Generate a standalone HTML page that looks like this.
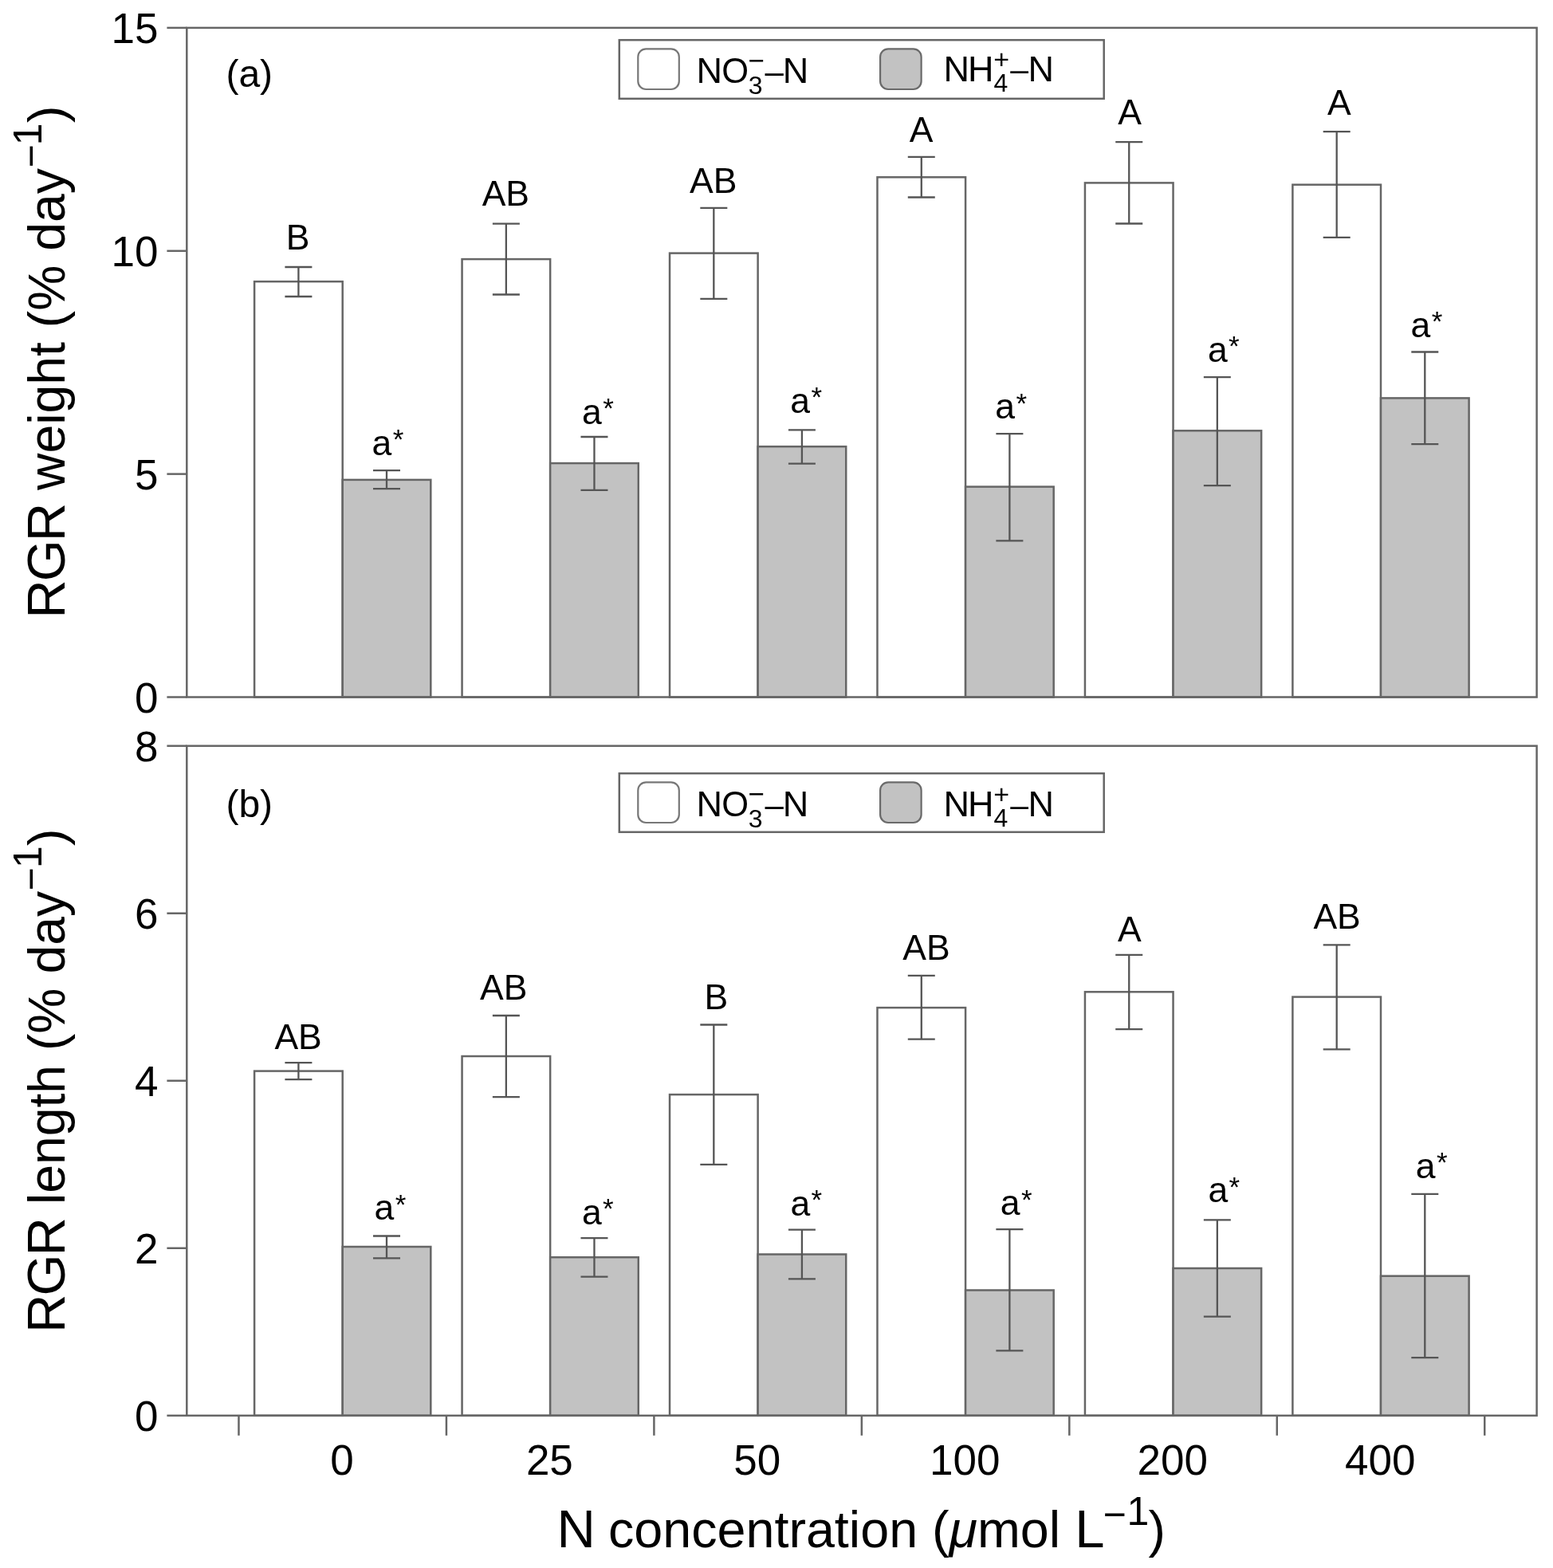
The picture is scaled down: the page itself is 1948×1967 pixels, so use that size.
<!DOCTYPE html>
<html lang="en">
<head>
<meta charset="utf-8">
<title>RGR weight and RGR length vs N concentration</title>
<style>
html,body{margin:0;padding:0;background:#fff}
body{width:1948px;height:1967px;overflow:hidden}
svg{display:block}
text{font-family:"Liberation Sans", Arial, Helvetica, sans-serif}
</style>
</head>
<body>
<svg width="1948" height="1967" viewBox="0 0 1948 1967" font-family='"Liberation Sans", Arial, Helvetica, sans-serif' fill="#000" stroke="none">
<defs><filter id="soft" x="0" y="0" width="1948" height="1967" filterUnits="userSpaceOnUse"><feGaussianBlur stdDeviation="0.6"/></filter></defs>
<rect width="1948" height="1967" fill="#fff"/>
<g filter="url(#soft)">
<rect x="-10" y="-10" width="1968" height="1987" fill="#fff"/>
<g class="panel">
<g class="bars" stroke="#666666" stroke-width="2.5">
<rect x="319.1" y="353.2" width="110.6" height="521.3" fill="#fff"/>
<rect x="429.7" y="601.9" width="110.6" height="272.6" fill="#c2c2c2"/>
<rect x="579.56" y="325.1" width="110.6" height="549.4" fill="#fff"/>
<rect x="690.16" y="581.1" width="110.6" height="293.4" fill="#c2c2c2"/>
<rect x="840.02" y="317.6" width="110.6" height="556.9" fill="#fff"/>
<rect x="950.62" y="560.2" width="110.6" height="314.3" fill="#c2c2c2"/>
<rect x="1100.48" y="222.3" width="110.6" height="652.2" fill="#fff"/>
<rect x="1211.08" y="610.6" width="110.6" height="263.9" fill="#c2c2c2"/>
<rect x="1360.94" y="229.4" width="110.6" height="645.1" fill="#fff"/>
<rect x="1471.54" y="540.3" width="110.6" height="334.2" fill="#c2c2c2"/>
<rect x="1621.4" y="231.7" width="110.6" height="642.8" fill="#fff"/>
<rect x="1732" y="499.4" width="110.6" height="375.1" fill="#c2c2c2"/>
</g>
<g class="errorbars" fill="none" stroke="#555555" stroke-width="2.3">
<path d="M357.4 335H391.4M357.4 372H391.4M374.4 335V372"/>
<path d="M468 590.2H502M468 613.2H502M485 590.2V613.2"/>
<path d="M617.86 280.6H651.86M617.86 369.5H651.86M634.86 280.6V369.5"/>
<path d="M728.46 548H762.46M728.46 614.8H762.46M745.46 548V614.8"/>
<path d="M878.32 260.9H912.32M878.32 374.8H912.32M895.32 260.9V374.8"/>
<path d="M988.92 539.4H1022.92M988.92 581.7H1022.92M1005.92 539.4V581.7"/>
<path d="M1138.78 196.8H1172.78M1138.78 247.5H1172.78M1155.78 196.8V247.5"/>
<path d="M1249.38 544.2H1283.38M1249.38 678.4H1283.38M1266.38 544.2V678.4"/>
<path d="M1399.24 178.1H1433.24M1399.24 280.5H1433.24M1416.24 178.1V280.5"/>
<path d="M1509.84 473.2H1543.84M1509.84 609.2H1543.84M1526.84 473.2V609.2"/>
<path d="M1659.7 165.1H1693.7M1659.7 297.8H1693.7M1676.7 165.1V297.8"/>
<path d="M1770.3 441.5H1804.3M1770.3 557.2H1804.3M1787.3 441.5V557.2"/>
</g>
<g class="sig-labels" font-size="44.5">
<text x="373.7" y="313.2" text-anchor="middle">B</text>
<text x="466.6" y="570.7">a<tspan font-size="35" dx="1.45" dy="-7.8">*</tspan></text>
<text x="634.35" y="257.7" text-anchor="middle">AB</text>
<text x="730" y="532">a<tspan font-size="35" dx="1.45" dy="-7.8">*</tspan></text>
<text x="894.7" y="242.4" text-anchor="middle">AB</text>
<text x="991.2" y="518.2">a<tspan font-size="35" dx="1.45" dy="-7.8">*</tspan></text>
<text x="1155.65" y="177.8" text-anchor="middle">A</text>
<text x="1248.2" y="525.4">a<tspan font-size="35" dx="1.45" dy="-7.8">*</tspan></text>
<text x="1417" y="156.1" text-anchor="middle">A</text>
<text x="1514.9" y="453.8">a<tspan font-size="35" dx="1.45" dy="-7.8">*</tspan></text>
<text x="1679.95" y="143.8" text-anchor="middle">A</text>
<text x="1769.5" y="423.1">a<tspan font-size="35" dx="1.45" dy="-7.8">*</tspan></text>
</g>
<rect class="frame" x="234.3" y="34.9" width="1693.3" height="839.6" fill="none" stroke="#666666" stroke-width="2.5"/>
<g class="yaxis" font-size="53" text-anchor="end">
<line x1="209.4" x2="234.3" y1="874.5" y2="874.5" stroke="#666666" stroke-width="2.5"/>
<text x="198.5" y="894">0</text>
<line x1="209.4" x2="234.3" y1="594.63" y2="594.63" stroke="#666666" stroke-width="2.5"/>
<text x="198.5" y="614.13">5</text>
<line x1="209.4" x2="234.3" y1="314.77" y2="314.77" stroke="#666666" stroke-width="2.5"/>
<text x="198.5" y="334.27">10</text>
<line x1="209.4" x2="234.3" y1="34.9" y2="34.9" stroke="#666666" stroke-width="2.5"/>
<text x="198.5" y="54.4">15</text>
</g>
<text class="tag" x="283.4" y="108.6" font-size="48">(a)</text>
<g class="legend">
<rect x="776.8" y="50.2" width="607.9" height="73.6" fill="#fff" stroke="#666666" stroke-width="2.5"/>
<rect x="800.3" y="61.4" width="51.5" height="50.6" rx="10" fill="#fff" stroke="#777" stroke-width="2.2"/>
<rect x="1104.1" y="61.4" width="51.5" height="50.6" rx="10" fill="#c2c2c2" stroke="#6a6a6a" stroke-width="2.2"/>
<text font-size="45"><tspan x="873.5" y="104.4">N</tspan><tspan x="905.2" y="104.4" font-size="43.5">O</tspan><tspan x="938.8" y="118" font-size="32">3</tspan><tspan x="938.3" y="88.1" font-size="35">−</tspan><tspan x="959.4" y="104.1" font-size="42">–</tspan><tspan x="981.7" y="104.4">N</tspan></text>
<text font-size="45"><tspan x="1183.5" y="101.9">N</tspan><tspan x="1214.1" y="101.9">H</tspan><tspan x="1246.4" y="114.6" font-size="32">4</tspan><tspan x="1246.2" y="85.6" font-size="34">+</tspan><tspan x="1267.2" y="101.3" font-size="41">–</tspan><tspan x="1289.4" y="101.9">N</tspan></text>
</g>
</g>
<g class="panel">
<g class="bars" stroke="#666666" stroke-width="2.5">
<rect x="319.1" y="1343.6" width="110.6" height="432.2" fill="#fff"/>
<rect x="429.7" y="1564" width="110.6" height="211.8" fill="#c2c2c2"/>
<rect x="579.56" y="1325" width="110.6" height="450.8" fill="#fff"/>
<rect x="690.16" y="1577.2" width="110.6" height="198.6" fill="#c2c2c2"/>
<rect x="840.02" y="1373.1" width="110.6" height="402.7" fill="#fff"/>
<rect x="950.62" y="1573.5" width="110.6" height="202.3" fill="#c2c2c2"/>
<rect x="1100.48" y="1264.1" width="110.6" height="511.7" fill="#fff"/>
<rect x="1211.08" y="1618.5" width="110.6" height="157.3" fill="#c2c2c2"/>
<rect x="1360.94" y="1244.3" width="110.6" height="531.5" fill="#fff"/>
<rect x="1471.54" y="1591" width="110.6" height="184.8" fill="#c2c2c2"/>
<rect x="1621.4" y="1250.6" width="110.6" height="525.2" fill="#fff"/>
<rect x="1732" y="1600.7" width="110.6" height="175.1" fill="#c2c2c2"/>
</g>
<g class="errorbars" fill="none" stroke="#555555" stroke-width="2.3">
<path d="M357.4 1333.1H391.4M357.4 1354.1H391.4M374.4 1333.1V1354.1"/>
<path d="M468 1550.5H502M468 1578.3H502M485 1550.5V1578.3"/>
<path d="M617.86 1274H651.86M617.86 1376.2H651.86M634.86 1274V1376.2"/>
<path d="M728.46 1553.2H762.46M728.46 1601.7H762.46M745.46 1553.2V1601.7"/>
<path d="M878.32 1285.5H912.32M878.32 1460.8H912.32M895.32 1285.5V1460.8"/>
<path d="M988.92 1542.7H1022.92M988.92 1604.3H1022.92M1005.92 1542.7V1604.3"/>
<path d="M1138.78 1223.9H1172.78M1138.78 1303.7H1172.78M1155.78 1223.9V1303.7"/>
<path d="M1249.38 1542.2H1283.38M1249.38 1694.4H1283.38M1266.38 1542.2V1694.4"/>
<path d="M1399.24 1197.8H1433.24M1399.24 1291.1H1433.24M1416.24 1197.8V1291.1"/>
<path d="M1509.84 1530.4H1543.84M1509.84 1651.6H1543.84M1526.84 1530.4V1651.6"/>
<path d="M1659.7 1185.3H1693.7M1659.7 1316.4H1693.7M1676.7 1185.3V1316.4"/>
<path d="M1770.3 1497.8H1804.3M1770.3 1703.1H1804.3M1787.3 1497.8V1703.1"/>
</g>
<g class="sig-labels" font-size="44.5">
<text x="374.1" y="1315.6" text-anchor="middle">AB</text>
<text x="469.5" y="1530.3">a<tspan font-size="35" dx="1.45" dy="-7.8">*</tspan></text>
<text x="631.7" y="1254.4" text-anchor="middle">AB</text>
<text x="729.9" y="1536.2">a<tspan font-size="35" dx="1.45" dy="-7.8">*</tspan></text>
<text x="898.35" y="1266.3" text-anchor="middle">B</text>
<text x="991.4" y="1524.6">a<tspan font-size="35" dx="1.45" dy="-7.8">*</tspan></text>
<text x="1162" y="1204.1" text-anchor="middle">AB</text>
<text x="1254.7" y="1524.4">a<tspan font-size="35" dx="1.45" dy="-7.8">*</tspan></text>
<text x="1416.85" y="1180.6" text-anchor="middle">A</text>
<text x="1515.4" y="1508.3">a<tspan font-size="35" dx="1.45" dy="-7.8">*</tspan></text>
<text x="1677.1" y="1164.5" text-anchor="middle">AB</text>
<text x="1775.8" y="1477.9">a<tspan font-size="35" dx="1.45" dy="-7.8">*</tspan></text>
</g>
<rect class="frame" x="234.3" y="935.7" width="1693.3" height="840.1" fill="none" stroke="#666666" stroke-width="2.5"/>
<g class="yaxis" font-size="53" text-anchor="end">
<line x1="209.4" x2="234.3" y1="1775.8" y2="1775.8" stroke="#666666" stroke-width="2.5"/>
<text x="198.5" y="1795.3">0</text>
<line x1="209.4" x2="234.3" y1="1565.78" y2="1565.78" stroke="#666666" stroke-width="2.5"/>
<text x="198.5" y="1585.28">2</text>
<line x1="209.4" x2="234.3" y1="1355.75" y2="1355.75" stroke="#666666" stroke-width="2.5"/>
<text x="198.5" y="1375.25">4</text>
<line x1="209.4" x2="234.3" y1="1145.72" y2="1145.72" stroke="#666666" stroke-width="2.5"/>
<text x="198.5" y="1165.22">6</text>
<line x1="209.4" x2="234.3" y1="935.7" y2="935.7" stroke="#666666" stroke-width="2.5"/>
<text x="198.5" y="955.2">8</text>
</g>
<text class="tag" x="283.4" y="1024.9" font-size="48">(b)</text>
<g class="legend">
<rect x="776.8" y="970.2" width="607.9" height="73.6" fill="#fff" stroke="#666666" stroke-width="2.5"/>
<rect x="800.3" y="981.4" width="51.5" height="50.6" rx="10" fill="#fff" stroke="#777" stroke-width="2.2"/>
<rect x="1104.1" y="981.4" width="51.5" height="50.6" rx="10" fill="#c2c2c2" stroke="#6a6a6a" stroke-width="2.2"/>
<text font-size="45"><tspan x="873.5" y="1024.4">N</tspan><tspan x="905.2" y="1024.4" font-size="43.5">O</tspan><tspan x="938.8" y="1038" font-size="32">3</tspan><tspan x="938.3" y="1008.1" font-size="35">−</tspan><tspan x="959.4" y="1024.1" font-size="42">–</tspan><tspan x="981.7" y="1024.4">N</tspan></text>
<text font-size="45"><tspan x="1183.5" y="1024.4">N</tspan><tspan x="1214.1" y="1024.4">H</tspan><tspan x="1246.4" y="1037.1" font-size="32">4</tspan><tspan x="1246.2" y="1008.1" font-size="34">+</tspan><tspan x="1267.2" y="1023.8" font-size="41">–</tspan><tspan x="1289.4" y="1024.4">N</tspan></text>
</g>
</g>
<g class="xaxis" font-size="53" text-anchor="middle">
<line x1="299.47" x2="299.47" y1="1775.8" y2="1800.8" stroke="#666666" stroke-width="2.5"/>
<line x1="559.93" x2="559.93" y1="1775.8" y2="1800.8" stroke="#666666" stroke-width="2.5"/>
<line x1="820.39" x2="820.39" y1="1775.8" y2="1800.8" stroke="#666666" stroke-width="2.5"/>
<line x1="1080.85" x2="1080.85" y1="1775.8" y2="1800.8" stroke="#666666" stroke-width="2.5"/>
<line x1="1341.31" x2="1341.31" y1="1775.8" y2="1800.8" stroke="#666666" stroke-width="2.5"/>
<line x1="1601.77" x2="1601.77" y1="1775.8" y2="1800.8" stroke="#666666" stroke-width="2.5"/>
<line x1="1862.23" x2="1862.23" y1="1775.8" y2="1800.8" stroke="#666666" stroke-width="2.5"/>
<text x="428.9" y="1850">0</text>
<text x="689.36" y="1850">25</text>
<text x="949.82" y="1850">50</text>
<text x="1210.28" y="1850">100</text>
<text x="1470.74" y="1850">200</text>
<text x="1731.2" y="1850">400</text>
</g>
<g class="ytitle">
<text transform="translate(80.6 775.8) rotate(-90)" font-size="64.3"><tspan font-size="67" letter-spacing="-1.95">RGR</tspan> weight (% day</text>
<text transform="translate(56.3 210.5) rotate(-90)" font-size="50">−</text>
<text transform="translate(51.9 182.2) rotate(-90)" font-size="50">1</text>
<text transform="translate(80.6 154.1) rotate(-90)" font-size="64.3">)</text>
</g>
<g class="ytitle">
<text transform="translate(80.6 1672) rotate(-90)" font-size="64.3"><tspan font-size="67" letter-spacing="-1.95">RGR</tspan> length (% day</text>
<text transform="translate(56.3 1117.4) rotate(-90)" font-size="50">−</text>
<text transform="translate(51.9 1089.1) rotate(-90)" font-size="50">1</text>
<text transform="translate(80.6 1061) rotate(-90)" font-size="64.3">)</text>
</g>
<g class="xtitle">
<text x="698.6" y="1940.9" font-size="64.65"><tspan font-size="67" letter-spacing="-1.95">N</tspan> concentration (<tspan font-style="italic">μ</tspan>mol <tspan font-size="67">L</tspan></text>
<text x="1383.5" y="1916.7" font-size="50">−</text>
<text x="1413.4" y="1912.7" font-size="50">1</text>
<text x="1440.4" y="1940.9" font-size="64.3">)</text>
</g>
</g>
</svg>
</body>
</html>
